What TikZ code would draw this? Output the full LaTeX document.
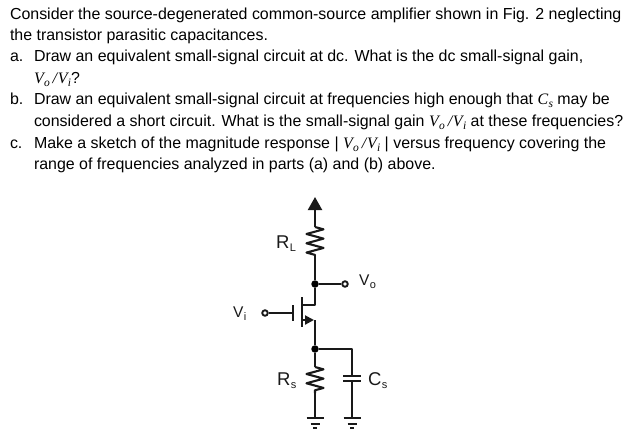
\documentclass[tikz,border=0pt]{standalone}
\usepackage{fontspec}
\setmainfont{Liberation Sans}
\newfontfamily\mathserif{Liberation Serif}
\usetikzlibrary{arrows.meta}
\usetikzlibrary{decorations.pathmorphing}
\usetikzlibrary{positioning}

\newcommand{\ital}[2]{{\mathserif\itshape #1\kern0.02em\raisebox{-0.25em}{\fontsize{11.5}{11}\selectfont #2}}}
\newcommand{\gain}{\ital{V}{o}\kern0.18em{\mathserif\itshape /}\kern0.05em\ital{V}{i}}
\newcommand{\subl}[1]{\kern0.02em\raisebox{-0.2em}{\fontsize{11}{11}\selectfont #1}}

\tikzset{
  line/.style={anchor=base west, inner sep=0pt, outer sep=0pt, font=\fontsize{15.95}{20}\selectfont, text=black},
  labbig/.style={anchor=base west, inner sep=0pt, font=\fontsize{18.5}{20}\selectfont, text=black!90},
  labsmall/.style={anchor=base west, inner sep=0pt, font=\fontsize{15.5}{20}\selectfont, text=black!90},
  wire/.style={line width=2.1pt, line join=round, draw=black!90},
  res/.style={wire, decorate, decoration={zigzag, amplitude=8.5pt, segment length=9.3pt}},
  dot/.style={circle, fill=black, inner sep=0pt, minimum size=7.5pt},
  term/.style={circle, draw=black!90, fill=white, line width=1.9pt, inner sep=0pt, minimum size=5.5pt},
}

\begin{document}
\begin{tikzpicture}[x=1pt, y=-1pt]
  \useasboundingbox (0,0) rectangle (628,437);

  %problem text
  \foreach \x/\y/\txt/\name in {
      10/19/{Consider the source-degenerated common-source amplifier shown in Fig. 2 neglecting}/t1,
      10/40/{the transistor parasitic capacitances.}/t2,
      10/61/{a.}/a0,
      34/61/{Draw an equivalent small-signal circuit at dc. What is the dc small-signal gain,}/a1,
      34/83/{\gain?}/a2,
      10/104/{b.}/b0,
      34/104/{Draw an equivalent small-signal circuit at frequencies high enough that \ital{C}{s} may be}/b1,
      34/126/{considered a short circuit. What is the small-signal gain \gain\ at these frequencies?}/b2,
      10/148/{c.}/c0,
      34/148/{Make a sketch of the magnitude response | \gain\ | versus frequency covering the}/c1,
      34/169/{range of frequencies analyzed in parts (a) and (b) above.}/c2}{
    \node[line] (\name) at (\x,\y) {\txt};
  }

  %circuit points
  \foreach \x/\y/\name in {
      315/197/vdd, 315/227/rlt, 315/255/rlb, 315/305/dr, 302/305/chd,
      315/320/so, 302/320/chs, 302/297/cht, 302/327/chb,
      293/305/gt, 293/321/gb, 293/313/gm,
      315/367/rst, 315/393/rsb, 315/418/gnda,
      352/349/ccr, 352/376/cpt, 352/381/cpb, 352/418/gndb}{
    \coordinate (\name) at (\x,\y);
  }
  \node[dot] (nout) at (315,284) {};
  \node[dot] (nsrc) at (315,349) {};
  \node[term] (vout) at (345,284) {};
  \node[term] (vin) at (265,313) {};

  %supply and load
  \draw[wire, -{Triangle[width=14pt,length=13pt]}] (rlt) -- (vdd);
  \draw[res] (rlt) -- (rlb);
  \draw[wire] (rlb) -- (nout) -- (dr) -- (chd);
  \draw[wire] (nout) -- (vout);

  %transistor
  \draw[wire] (vin) -- (gm);
  \draw[wire] (gt) -- (gb);
  \draw[wire] (cht) -- (chb);
  \draw[wire, -{Triangle[width=9pt,length=9pt]}] (chs) -- (314,320);
  \draw[wire] (so) -- (nsrc);

  %source network
  \draw[wire] (nsrc) -- (rst);
  \draw[res] (rst) -- (rsb);
  \draw[wire] (rsb) -- (gnda);
  \draw[wire] (nsrc) -- (ccr) -- (cpt);
  \draw[wire] (cpb) -- (gndb);
  \draw[wire] ([xshift=-9pt]cpt) -- ([xshift=9pt]cpt);
  \draw[wire] ([xshift=-9pt]cpb) -- ([xshift=9pt]cpb);

  %grounds
  \foreach \g in {gnda, gndb}{
    \draw[wire] ([xshift=-8.5pt]\g) -- ([xshift=8.5pt]\g);
    \draw[wire] ([xshift=-4.5pt,yshift=-6pt]\g) -- ([xshift=4.5pt,yshift=-6pt]\g);
    \draw[wire] ([xshift=-2pt,yshift=-10pt]\g) -- ([xshift=2pt,yshift=-10pt]\g);
  }

  %labels
  \node[labbig] (lrl) at (276,248) {R\subl{L}};
  \node[labbig] (lrs) at (277,385) {R\subl{s}};
  \node[labbig] (lcs) at (368,385) {C\subl{s}};
  \node[labsmall] (lvo) at (359,285) {V\subl{o}};
  \node[labsmall] (lvi) at (233,317) {V\subl{i}};
\end{tikzpicture}
\end{document}
